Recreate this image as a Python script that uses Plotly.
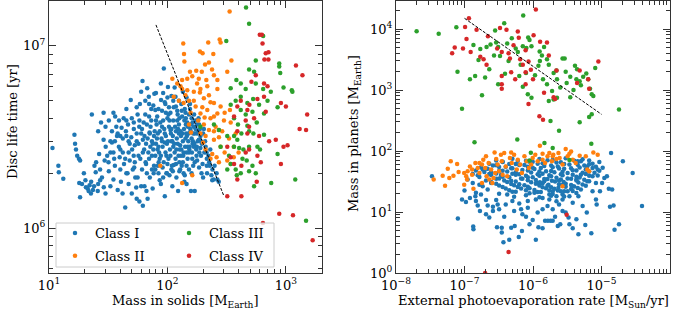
import plotly.graph_objects as go

# ---------------- Left panel: mass in solids [M_Earth] vs disc life time [Myr]
left_I = [(10.7,2.75),(12.0,2.2),(12.1,2.03),(13.2,1.87),(16.4,3.25),(16.6,2.9),(16.9,2.7),(17.3,2.5),(17.9,2.4),(18.3,2.35),(18,1.77),(18.3,1.48),(19.7,2.0),(20.3,1.83),(21.2,1.65),(21.6,1.6),(22.7,1.8),(23,4.2),(24.2,2.2),(24.8,2.03),(22.6,1.55),(23.5,1.62),(25.8,1.6),(27,1.83),(28,1.9),(27,2.1),(28.9,4.3),(28.9,3.05),(30,3.6),(30.1,2.8),(31,2.5),(31.8,2.3),(32,2.05),(34,2.95),(35,4.3),(36.2,4.1),(37,3.6),(37.5,3.2),(38.9,2.8),(39.5,2.45),(40,2.1),(40.5,1.8),(41.8,1.55),(44,1.3),(42.7,4.0),(44.6,3.4),(46.5,3.7),(49,5.05),(49.5,3.15),(50.3,2.7),(51.9,2.5),(52.4,2.15),(53.5,1.9),(54.5,1.67),(56,4.2),(57.8,3.6),(58.5,4.8),(61.6,6.4),(62,3.05),(63.6,2.7),(65.4,2.3),(66.5,1.6),(68,1.45),(67.5,5.85),(69.6,5.25),(70.6,3.35),(71.7,2.8),(74,2.5),(76.5,2.0),(77.5,5.45),(79,4.45),(80,3.9),(81.6,3.1),(82.5,2.7),(84.3,2.3),(86,1.83),(88.3,5.05),(90,3.6),(93.2,7.5),(95,2.95),(96.3,2.6),(99,2.0),(101,5.95),(102,4.2),(106,3.45),(108,3.0),(112,2.8),(113,2.22),(117,5.25),(118,4.65),(121,3.9),(125,3.3),(128,2.85),(130,2.5),(132,2.2),(137,2.0),(139,1.8),(140,4.5),(143,3.7),(146,3.2),(148,2.8),(152,2.6),(157,3.4),(160,4.0),(164,3.0),(167,2.8),(170,1.6),(172,3.9),(178,3.3),(184,3.05),(190,2.75),(194,2.0),(198,2.25),(203,3.5),(210,2.8),(216,2.0),(228,2.2),(239,1.83),(246,1.85),(264,1.85),(271,1.8),
    (19,1.75),(20.5,1.68),(22,1.72),(24,1.7),(26,1.75),(29,1.68),(33,1.7),(35,1.85),(38,1.62),(30,1.55),(25,2.3),(26.5,2.55),(29.5,2.35),(33,2.6),(35.5,2.4),(36,3.0),(40,3.2),(42,2.6),(43,2.25),(45,2.0),(47,1.75),(48,2.35),(50,1.55),(55,1.45),(58,1.4),(62,1.33),(64,1.7),(45,3.9),(47,3.0),(53,2.85),(52,3.8),(55,3.3),(57,2.9),(59,2.4),(26,3.4),(27.5,3.8),(32,3.9),(34,3.4),(39,3.9),(41,3.55),
    (60,3.3),(63,3.8),(66,2.9),(68,3.1),(72,3.6),(74,3.0),(76,2.7),(78,3.4),(80,2.9),(83,3.3),(85,2.6),(87,3.8),(89,3.1),(91,2.8),(94,3.5),(97,3.2),(99,2.9),(100,4.0),(103,3.6),(105,2.7),(107,3.3),(110,3.0),(112,3.9),(115,2.6),(118,3.4),(120,3.1),(122,2.9),(125,3.7),(127,2.7),(130,3.2),(133,4.1),(135,3.0),(138,3.5),(141,2.8),(144,3.3),(147,3.8),(150,3.0),(153,2.7),(156,3.5),(160,3.1),(163,2.9),(167,3.6),(170,3.3),(175,2.7),(180,3.0),(185,3.7),(190,3.2),(195,2.9),
    (62,2.6),(65,4.2),(70,2.4),(73,4.5),(77,2.2),(82,4.1),(86,2.4),(90,4.4),(93,2.3),(96,4.8),(102,2.4),(106,4.3),(109,2.2),(113,4.6),(117,2.4),(121,4.4),(126,2.3),(131,4.8),(136,2.5),(142,4.3),(148,2.4),(155,4.5),(162,2.4),(168,4.2),(176,2.5),(183,4.0),
    (55,3.0),(57,2.5),(52,3.5),(48,2.9),(45,3.2),(47,2.6),(53,2.3),(58,3.9),(42,3.1),(44,2.4),(40,2.7),(38,3.3),(50,4.0),(35,2.6),(33,3.0),(36,2.2),(46,2.0),(51,2.1),(56,1.9),(61,2.1),(67,2.0),(71,1.9),(79,2.1),(84,2.0),(92,1.9),(98,2.0),(104,1.95),(111,2.05),(119,1.9),(128,2.1),(140,1.95),(152,2.1),(165,2.2),(178,2.35),(192,2.5),(205,2.6),(215,2.4),(225,2.3),(240,2.1),
    (60,1.7),(75,1.65),(88,1.75),(95,1.5),(110,1.7),(123,1.6),(145,1.75),(158,1.6),(65,5.0),(80,5.5),(88,6.2),(95,4.9),(108,5.3),(115,5.9),(125,5.0),(135,5.6),(145,5.2),(155,4.8),(60,5.6),(70,4.8),(55,4.6),(45,4.5),
    (61,3.5),(64,3.2),(67,3.7),(69,2.6),(71,3.3),(73,3.9),(75,2.9),(77,3.2),(79,2.5),(81,3.7),(84,2.8),(86,3.4),(88,2.5),(90,3.0),(92,3.9),(95,3.3),(98,2.5),(101,3.0),(104,3.9),(106,2.5),(108,3.5),(111,3.2),(114,2.9),(116,3.6),(119,2.7),(123,3.5),(124,2.5),(126,4.0),(129,3.4),(131,2.7),(134,3.3),(137,2.6),(139,3.9),(142,3.1),(145,2.6),(149,3.6),(151,3.3),(154,2.8),(158,3.7),(161,2.6),(165,3.3),(169,2.9),(173,3.5),(177,2.8),(181,3.4),(186,2.6),(192,3.0),(200,3.3),(208,3.0),(214,2.6),(222,2.5),(230,2.7),
    (97,4.3),(103,4.6),(112,5.0),(122,4.2),(132,4.4),(143,4.0),(152,4.2),(163,3.8),(178,3.7),(188,3.5),(70,4.1),(76,4.7),(84,4.5),(92,5.5),(100,5.2),
    (66,2.25),(74,2.1),(83,2.2),(91,2.15),(100,2.25),(108,2.1),(118,2.25),(126,2.05),(135,2.3),(145,2.2),(160,2.0),(170,2.3),(185,2.15),(200,1.9),(215,2.2),(250,2.2),(260,2.0),(235,1.95)]

left_II = [(335,15.4),(136,10.3),(221,10.4),(276,10.8),(281,10.4),(188,9.3),(198,9.1),(138,9.0),(244,9.0),(139,8.2),(347,8.3),(208,7.9),(224,8.1),(195,7.2),(175,7.3),(155,7.2),(238,7.4),(247,6.9),(320,7.2),(110,6.6),(121,6.2),(133,6.5),(162,6.8),(213,6.5),(264,5.8),(133,5.8),(113,5.25),(142,5.35),(152,5.0),(167,5.6),(188,5.55),(203,5.15),(224,5.35),(247,4.85),(281,4.65),(304,4.3),(173,4.65),(190,4.25),(182,3.9),(203,3.7),(231,4.0),(255,3.6),(272,3.45),(300,3.9),(337,4.45),(342,3.8),(210,3.2),(247,3.05),(281,2.8),(239,2.55),(260,2.45),(304,2.6),(342,2.25),(162,1.95),(133,1.77),(87,2.2),(158,3.35),(377,3.3),(399,2.6),(331,3.1),(363,2.8),(217,4.45),(178,6.2),(147,5.7),(125,5.0),(137,4.85),(157,4.3),(167,5.0),(197,4.6),(231,4.9),(264,4.25),(290,3.4),(224,3.45),(190,3.3),(272,3.15),(247,3.4),(206,4.05),(217,6.0),(264,6.5),(184,6.6),(190,5.8),(129,6.0),(147,6.6),(210,2.7),(231,2.4),(320,2.35),(363,2.45),(272,2.3),(247,4.1),(152,3.7),(200,2.95)]

left_III = [(461,16.2),(489,13.2),(643,11.3),(314,10.6),(557,8.3),(489,7.4),(539,7.2),(879,8.0),(879,7.7),(896,7.1),(955,5.9),(1122,5.7),(1135,5.6),(382,6.5),(416,6.2),(342,5.85),(458,5.8),(557,6.2),(643,5.8),(746,5.6),(529,5.1),(473,4.85),(594,4.75),(700,5.0),(416,4.45),(458,4.2),(522,4.35),(654,4.25),(851,4.6),(247,3.7),(365,4.0),(394,3.7),(473,3.65),(568,3.8),(190,3.6),(272,3.45),(320,3.2),(365,3.2),(389,3.05),(421,3.3),(532,3.3),(654,3.25),(365,2.8),(403,2.75),(438,2.7),(489,2.8),(605,2.7),(851,2.55),(331,2.5),(342,2.25),(377,2.1),(430,2.4),(467,2.35),(522,2.2),(557,2.0),(416,2.0),(320,2.1),(489,2.05),(539,1.7),(752,1.77),(1200,1.85),(1480,1.1),(385,1.95),(575,2.8),(281,2.8),(489,3.4),(377,5.0),(342,4.75),(416,5.25)]

left_IV = [(602,11.5),(627,11.5),(635,10.3),(676,9.1),(713,9.2),(659,8.4),(712,8.4),(1216,7.8),(1380,6.9),(557,6.9),(654,6.2),(700,6.0),(512,6.35),(416,5.0),(492,4.75),(575,5.1),(654,5.25),(908,4.85),(1000,4.65),(1513,4.2),(389,4.65),(473,4.45),(676,4.35),(365,4.1),(458,3.9),(539,4.0),(1306,3.5),(1480,3.45),(489,3.6),(389,3.4),(473,3.3),(594,3.2),(822,3.05),(955,2.8),(1033,2.85),(320,2.8),(489,2.7),(575,2.5),(722,3.0),(342,2.45),(365,2.25),(458,2.6),(908,2.25),(389,1.85),(568,1.8),(614,2.3),(421,2.2),(320,1.5),(421,1.5),(879,1.2),(1148,1.18),(1683,0.86),(640,1.07)]

# ---------------- Right panel: external photoevaporation rate [M_Sun/yr] vs mass in planets [M_Earth]
right_I = [(3.35e-8,38.6),(8.0e-8,7.8),(1.34e-7,5.8),(1.35e-7,5.2),(9.2e-8,16.1),(1.05e-7,14.6),(1.0e-7,22.5),(1.2e-7,17),(1.44e-7,18.2),(1.56e-7,12.8),(1.68e-7,10.4),(2.06e-7,9.2),(2.18e-7,12.8),(2.3e-7,8.1),(2.6e-7,10.4),(2.9e-7,15.7),(3.05e-7,13.3),(2.98e-7,5.6),(3.5e-7,4.6),(3.7e-7,3.2),(3.5e-7,5.5),(3.8e-7,8.4),(4.5e-7,3.5),(4.8e-7,5.5),(5.4e-7,5.9),(6.2e-7,3.9),(6.9e-7,4.9),(7.0e-7,9.2),(7.9e-7,8.4),(8.9e-7,6.3),(9.9e-7,7.4),(1.1e-6,3.5),(1.2e-6,5.6),(1.38e-6,5.4),(1.5e-6,7.2),(1.65e-6,7.2),(1.8e-6,7.2),(1.94e-6,7.2),(2.1e-6,8.4),(2.3e-6,5.9),(2.5e-6,6.3),(2.7e-6,10.4),(3.0e-6,9.8),(3.3e-6,8.1),(3.4e-6,6.3),(3.8e-6,5.4),(4.3e-6,7.6),(4.6e-6,4.3),(5.8e-6,6.1),(6.1e-6,9.8),(7.1e-6,4.5),(8.3e-6,16.1),(8.5e-6,13.3),(9.5e-6,22),(1.02e-5,30),(1.1e-5,36),(1.2e-5,38.6),(1.28e-5,24),(1.33e-5,12.2),(1.43e-5,23.4),(1.5e-5,12.8),(1.55e-5,5.1),(1.8e-5,6.3),(2.05e-5,68),(2.85e-5,43.8),(3.9e-5,12.5),(1.38e-5,92.7),(1.04e-5,53),(8.8e-6,49.6),(6.6e-6,32),(7.4e-6,22),(5.0e-6,23.4),(4.6e-6,18.2),(3.4e-6,18.2),(2.7e-6,19.4),(2.2e-6,18.2),(1.73e-6,16.1),(1.38e-6,17),(1.1e-6,16.1),(8.4e-7,15.1),(6.3e-7,13.8),(5.0e-7,15.1),(4.0e-7,13.3),(3.2e-7,11.1),(2.6e-7,12.2),(2.06e-7,15.7),(1.74e-7,19.4),(1.47e-7,20.7),(1.32e-7,30),(1.11e-7,34),(1.84e-7,26.5),(2.18e-7,23.4),(2.45e-7,30),
    (2.9e-7,70),(5.0e-7,75),(7.9e-7,69),(1.24e-6,74),(1.94e-6,71),(3.0e-6,76),(4.5e-6,68),(5.3e-6,73),(6.6e-6,70),
    (2.3e-7,62),(3.6e-7,66),(5.6e-7,61),(8.9e-7,67),(1.38e-6,63),(2.2e-6,65),(3.4e-6,60),(5.0e-6,68),(7.4e-6,62),(9.3e-6,66),
    (1.74e-7,54),(2.6e-7,58),(4.0e-7,55),(6.3e-7,59),(9.9e-7,53),(1.46e-6,57),(2.3e-6,56),(3.6e-6,52),(5.6e-6,58),(8.3e-6,55),
    (1.47e-7,48),(2.18e-7,51),(3.2e-7,47),(4.8e-7,52),(7.0e-7,49),(1.05e-6,50.5),(1.55e-6,46.5),(2.4e-6,51.5),(3.8e-6,48.5),(5.9e-6,50),(9.3e-6,47.5),
    (1.32e-7,42),(1.95e-7,45.5),(2.9e-7,43),(4.2e-7,46),(6.3e-7,41.5),(9.4e-7,44.5),(1.38e-6,42.5),(2.05e-6,45),(3.2e-6,43.5),(5.0e-6,41),(7.9e-6,44),
    (1.65e-7,37.5),(2.45e-7,40.5),(3.6e-7,38),(5.6e-7,41),(8.4e-7,37),(1.24e-6,39.5),(1.84e-6,38.5),(2.7e-6,40),(4.3e-6,37.8),(6.6e-6,39.2),
    (2.06e-7,33),(3.2e-7,35.5),(4.8e-7,32.5),(7.0e-7,35),(1.1e-6,33.5),(1.63e-6,34.8),(2.4e-6,32.8),(3.6e-6,35.2),(5.6e-6,33.8),
    (2.9e-7,29),(4.2e-7,31),(6.3e-7,28.5),(9.4e-7,30.8),(1.38e-6,29.5),(2.1e-6,31.5),(3.0e-6,29.2),(4.6e-6,30.5),
    (3.6e-7,25.8),(5.3e-7,27.5),(8.4e-7,26),(1.24e-6,27.2),(1.84e-6,25.5),(2.7e-6,27.8),(4.0e-6,26.2),(5.9e-6,27),
    (4.5e-7,22.8),(6.7e-7,24.2),(1.05e-6,23),(1.55e-6,24.5),(2.3e-6,22.5),(3.6e-6,23.8),
    (3.2e-7,20),(5.6e-7,21.5),(8.9e-7,20.3),(1.3e-6,21.2),(1.94e-6,19.8),(2.85e-6,21.8),(4.3e-6,20.5),
    (1.46e-6,32),(1.68e-6,28),(1.94e-6,22),(2.35e-6,25),(2.55e-6,34),(2.85e-6,28),(3.2e-6,22),(1.73e-6,19.4),(2.2e-6,15),(2.7e-6,16),(1.17e-6,30),(1.05e-6,20.7),(3.8e-6,26.5),(4.3e-6,34),(5.3e-6,44),(6.2e-6,56),
    (1.84e-7,50),(1.65e-7,28),(1.47e-7,15.1),(4.2e-7,19.4),(5.3e-7,10.4),(6.7e-7,11.1),(8.4e-7,11.8),(1.17e-6,9.8),(1.38e-6,11.1),(1.63e-6,12.5),(1.94e-6,11.1),(2.4e-6,13.3),(3.8e-6,14.2),(5.3e-6,12.5),(8.3e-6,30),(7.4e-6,38.6),
    (3.6e-7,66.5),(6.0e-7,69.5),(9.9e-7,67),(1.63e-6,70.5),(2.55e-6,65.5),(4.0e-6,69),
    (2.9e-7,58.5),(4.5e-7,61.5),(7.5e-7,59),(1.17e-6,62),(1.84e-6,58),(2.85e-6,61),(4.5e-6,59.5),(6.6e-6,60.5),
    (2.06e-7,51.5),(3.2e-7,54.5),(5.0e-7,52),(8.4e-7,55),(1.3e-6,52.5),(1.94e-6,54),(2.85e-6,51),(4.8e-6,53.5),(7.4e-6,52.8),
    (2.45e-7,45.5),(3.6e-7,47.5),(5.6e-7,45),(8.4e-7,48),(1.24e-6,46),(1.84e-6,47),(2.7e-6,45.8),(4.3e-6,47.8),(6.6e-6,46.3),
    (1.56e-7,40),(2.3e-7,42),(3.4e-7,40.5),(5.0e-7,42.5),(7.9e-7,39.5),(1.17e-6,41.5),(1.73e-6,40.2),(2.55e-6,41.8),(3.8e-6,40.8),(5.9e-6,42.2),(8.8e-6,39.8),
    (2.9e-7,35),(4.5e-7,37),(6.7e-7,35.5),(9.9e-7,37.2),(1.46e-6,34.8),(2.2e-6,36.5),(3.2e-6,35.3),(4.8e-6,36.8),
    (2.45e-7,31),(3.8e-7,33),(5.6e-7,31.5),(8.4e-7,33.2),(1.26e-6,30.8),(1.89e-6,32.5),(2.8e-6,31.2),(4.3e-6,32.8),(6.2e-6,31.8),
    (3.2e-7,27.2),(4.8e-7,28.8),(7.5e-7,27.5),(1.1e-6,29),(1.63e-6,27),(2.4e-6,28.5),(3.6e-6,27.8),(5.3e-6,28.2),
    (4.0e-7,24.2),(6.0e-7,25.8),(8.9e-7,24.5),(1.38e-6,25.5),(2.05e-6,24),(3.0e-6,26),(4.5e-6,24.8),
    (5.0e-7,21.5),(7.9e-7,22.8),(1.17e-6,21.2),(1.73e-6,22.5),(2.55e-6,21.8),(3.8e-6,22.2),
    (5.3e-7,17.8),(7.9e-7,18.8),(1.24e-6,17.5),(1.84e-6,18.5),(2.85e-6,18)]

right_II = [(3.55e-8,34.1),(4.8e-8,39.5),(5.2e-8,27),(5.7e-8,51),(6.3e-8,68),(6.0e-8,36),(6.9e-8,39.5),(7.8e-8,61),(8.2e-8,45.5),(9.9e-8,43.8),(9.9e-8,28),(1.06e-7,38.6),(1.11e-7,46.5),(1.2e-7,56),(1.29e-7,49.6),(1.35e-7,24),(1.44e-7,63.7),(1.56e-7,52.5),(1.65e-7,43.8),(1.8e-7,60),(1.88e-7,72),(2.0e-7,52.5),(2.1e-7,38.6),(2.25e-7,63.7),(2.45e-7,49.6),(2.65e-7,36),(2.75e-7,95),(2.9e-7,74),(3.05e-7,60),(3.2e-7,46.5),(3.5e-7,68),(3.8e-7,93),(4.0e-7,56),(4.2e-7,38.6),(4.6e-7,77),(4.9e-7,63.7),(5.3e-7,87),(5.8e-7,49.6),(6.0e-7,72),(6.5e-7,60),(6.9e-7,43.8),(7.5e-7,82),(8.1e-7,68),(8.7e-7,52.5),(9.4e-7,60),(9.9e-7,77),(1.08e-6,87),(1.17e-6,68),(1.26e-6,122),(1.38e-6,72),(1.5e-6,63.7),(1.63e-6,82),(1.73e-6,93),(1.89e-6,68),(1.98e-6,87),(2.2e-6,74),(2.35e-6,93),(2.45e-6,77),(2.7e-6,60),(3.0e-6,108),(3.2e-6,82),(3.4e-6,90),(3.6e-6,98),(3.8e-6,72),(4.2e-6,63.7),(4.8e-6,84),(5.9e-6,82),(6.2e-6,49.6),(6.6e-6,46.5),(7.6e-6,95),(8.8e-6,87),(2.7e-6,26.5),(2.3e-7,34),(2.55e-7,30),(1.65e-7,63.7),(2.06e-7,82),(3.4e-7,87),(4.8e-7,95),(1.38e-6,90),(1.94e-6,82),(3.6e-7,41),(1.29e-7,41),(1.09e-7,34),(1.8e-7,30),(2.8e-7,43.8)]

right_III = [(2.0e-8,9.2e3),(4.2e-8,8.4e3),(7.6e-8,1.07e4),(7.9e-8,2.0e3),(9.2e-8,495),(1.35e-7,5.5e3),(1.2e-7,1.5e3),(1.43e-7,1.7e3),(1.8e-7,820),(2.0e-7,1.6e3),(1.6e-7,3.1e3),(1.7e-7,4.7e3),(2.1e-7,5.1e3),(2.4e-7,5.6e3),(2.9e-7,6.0e3),(3.1e-7,5.1e3),(2.7e-7,3.7e3),(3.3e-7,3.6e3),(2.8e-7,9.5e3),(3.8e-7,1.24e4),(2.3e-7,2.2e3),(3.1e-7,1.24e3),(3.9e-7,1.85e3),(4.2e-7,5.8e3),(4.4e-7,3.0e3),(4.9e-7,7.1e3),(6.0e-7,4.2e3),(5.6e-7,4.8e3),(7.1e-7,5.2e3),(8e-7,4.9e3),(8.5e-7,7.3e3),(8.9e-7,6.6e3),(9.5e-7,5.2e3),(7.2e-7,1.67e4),(6.6e-7,2.6e3),(6.3e-7,1.7e3),(7.9e-7,1.9e3),(7.1e-7,1.13e3),(8.4e-7,850),(9.5e-7,750),(1.07e-6,1.75e3),(1.2e-6,2.5e3),(1.26e-6,3.0e3),(1.25e-6,4.3e3),(1.35e-6,3.7e3),(1.45e-6,5.1e3),(1.6e-6,3.2e3),(1.7e-6,2.6e3),(1.4e-6,1.5e3),(1.6e-6,1.25e3),(1.9e-6,960),(2.24e-6,1.5e3),(2e-6,1.9e3),(2.2e-6,2.1e3),(2.7e-6,3.3e3),(2.9e-6,3.3e3),(3.0e-6,2.0e3),(3.5e-6,1.65e3),(3.1e-6,1.3e3),(2.5e-6,1.1e3),(2e-6,700),(2.24e-6,750),(1.7e-6,660),(1.8e-6,310),(2.4e-6,215),(4.1e-6,2.5e3),(4.4e-6,2.2e3),(4.3e-6,1.5e3),(4.8e-6,1.4e3),(5e-6,1.2e3),(5.4e-6,1.65e3),(6e-6,1.87e3),(6.4e-6,1.5e3),(6.8e-6,1.05e3),(7.2e-6,850),(7.6e-6,800),(8.1e-6,2.3e3),(4.8e-6,295),(6.6e-6,360),(7.2e-6,400),(1.8e-5,480),(3.9e-6,1.0e3),(3.5e-6,760),
    (1.4e-7,139),(5.9e-7,155),(1.47e-6,135),(1.94e-6,112),(7.1e-6,132),(9.3e-7,94),(8.9e-7,70),(3.4e-6,71)]

right_IV = [(1.1e-6,2.1e4),(1.16e-7,1.5e4),(1.02e-7,1.08e4),(1.07e-7,6.9e3),(1.5e-7,9.7e3),(7.2e-8,5.0e3),(6.6e-8,4.0e3),(9.5e-8,4.8e3),(1.23e-7,4.2e3),(1.9e-7,3.2e3),(2.2e-7,7.6e3),(1.7e-7,3.5e3),(3.0e-7,4.8e3),(3.3e-7,1.04e4),(4.1e-7,9.7e3),(3.5e-7,4.2e3),(4.4e-7,4.0e3),(5.2e-7,5.4e3),(6e-7,9.1e3),(6.2e-7,7.2e3),(7.8e-7,4.5e3),(6.5e-7,3.2e3),(7.1e-7,2.6e3),(7.8e-7,1.95e3),(8.6e-7,2.95e3),(9.3e-7,2.15e3),(1.02e-6,7.9e3),(1.27e-6,6.2e3),(1e-6,1.5e3),(7.8e-7,1.24e3),(3.5e-7,1.24e3),(3.5e-7,1.05e3),(3.5e-7,1.7e3),(4.8e-7,1.95e3),(5.5e-7,1.5e3),(8.6e-7,590),(1.24e-6,370),(1.4e-6,325),(1.45e-6,900),(1.6e-6,6.0e3),(1.7e-6,3.7e3),(2e-6,760),(2.1e-6,710),(2.2e-6,2.1e3),(4.4e-6,1.3e3),(4.8e-6,2.1e3),(6.4e-6,1.5e3),(6.6e-6,1.05e3),(9e-6,2.95e3),(2.1e-7,2.6e3),(4.6e-7,3.3e3),
    (3.1e-6,9.0),(4.4e-7,2.2),(2e-7,1.0)]

# dashed guide lines (endpoints)
fit_left_mass = [80, 300]
fit_left_life = [1.3e7, 1.5e6]
fit_right_rate = [1e-7, 1e-5]
fit_right_mass = [1.5e4, 400]

class_names = ["Class I", "Class II", "Class III", "Class IV"]
class_colors = ["#1f77b4", "#ff7f0e", "#2ca02c", "#d62728"]
legend_ids = ["legend", "legend", "legend2", "legend2"]

left_sets = [left_I, left_II, left_III, left_IV]
right_sets = [right_I, right_II, right_III, right_IV]

FONT = "DejaVu Serif"
FS = 13
AX = "#333333"
fig = go.Figure()

for name, col, lg, lset, rset in zip(class_names, class_colors, legend_ids, left_sets, right_sets):
    fig.add_trace(go.Scatter(
        x=[p[0] for p in lset], y=[p[1] * 1e6 for p in lset],
        mode="markers", marker=dict(size=4.5, color=col, line=dict(width=0)),
        name=name, legend=lg, legendgroup=name, xaxis="x", yaxis="y", showlegend=True))
    fig.add_trace(go.Scatter(
        x=[p[0] for p in rset], y=[p[1] for p in rset],
        mode="markers", marker=dict(size=4.5, color=col, line=dict(width=0)),
        name=name, legendgroup=name, xaxis="x2", yaxis="y2", showlegend=False))

fig.add_trace(go.Scatter(x=fit_left_mass, y=fit_left_life, mode="lines",
                         line=dict(color="black", width=1, dash="3px,1.5px"),
                         showlegend=False, xaxis="x", yaxis="y"))
fig.add_trace(go.Scatter(x=fit_right_rate, y=fit_right_mass, mode="lines",
                         line=dict(color="black", width=1, dash="3px,1.5px"),
                         showlegend=False, xaxis="x2", yaxis="y2"))

def decade_minor(lo, hi):
    vals = []
    for e in range(lo, hi + 1):
        for m in range(2, 10):
            vals.append(m * 10.0 ** e)
    return vals

def sup(e):
    s = str(e).replace("-", "\u2212")
    return "10<sup>" + s + "</sup>"

axis_common = dict(type="log", showgrid=False, zeroline=False, showline=True,
                   linecolor=AX, linewidth=1.3, mirror="allticks", automargin=False,
                   ticks="inside", ticklen=7, tickwidth=1.1, tickcolor=AX,
                   tickfont=dict(family=FONT, size=FS, color="black"))
minor_common = dict(ticks="inside", ticklen=4, tickcolor=AX, tickwidth=1)

left_x_ticks = [10, 100, 1000]
left_y_ticks = [1e6, 1e7]
right_x_ticks = [1e-8, 1e-7, 1e-6, 1e-5, 1e-4]
right_y_ticks = [1, 10, 100, 1000, 10000]

def px_x(p):
    return p / 685

def px_y(p):
    return (273 - p) / 272

titles = [
    dict(text="Mass in solids [M<sub>Earth</sub>]", x=px_x(185), y=px_y(301), textangle=0),
    dict(text="External photoevaporation rate [M<sub>Sun</sub>/yr]", x=px_x(533), y=px_y(301), textangle=0),
    dict(text="Disc life time [yr]", x=px_x(12), y=px_y(122), textangle=-90),
    dict(text="Mass in planets [M<sub>Earth</sub>]", x=px_x(354), y=px_y(134), textangle=-90),
]
annotations = [dict(t, xref="paper", yref="paper", showarrow=False, xanchor="center",
                    yanchor="middle", font=dict(family=FONT, size=FS, color="black"))
               for t in titles]

fig.update_layout(
    width=685, height=311, plot_bgcolor="white", paper_bgcolor="white",
    margin=dict(l=0, r=0, t=1, b=38, autoexpand=False),
    font=dict(family=FONT, size=FS, color="black"),
    xaxis=dict(axis_common, domain=[49/685, 322/685], range=[1, 3.305],
               tickvals=left_x_ticks, ticktext=[sup(1), sup(2), sup(3)],
               minor=dict(minor_common, tickvals=decade_minor(1, 3)), anchor="y"),
    yaxis=dict(axis_common, domain=[0, 1], range=[5.755, 7.245],
               tickvals=left_y_ticks, ticktext=[sup(6), sup(7)],
               minor=dict(minor_common, tickvals=decade_minor(5, 7)), anchor="x"),
    xaxis2=dict(axis_common, domain=[396/685, 670/685], range=[-8, -4],
                tickvals=right_x_ticks, ticktext=[sup(-8), sup(-7), sup(-6), sup(-5), sup(-4)],
                minor=dict(minor_common, tickvals=decade_minor(-8, -5)), anchor="y2"),
    yaxis2=dict(axis_common, domain=[0, 1], range=[0, 4.46],
                tickvals=right_y_ticks, ticktext=[sup(0), sup(1), sup(2), sup(3), sup(4)],
                minor=dict(minor_common, tickvals=decade_minor(0, 4)), anchor="x2"),
    legend=dict(x=px_x(55), y=px_y(218), xanchor="left", yanchor="top",
                bgcolor="rgba(0,0,0,0)", borderwidth=0, tracegroupgap=3,
                font=dict(family=FONT, size=FS)),
    legend2=dict(x=px_x(169), y=px_y(218), xanchor="left", yanchor="top",
                 bgcolor="rgba(0,0,0,0)", borderwidth=0, tracegroupgap=3,
                 font=dict(family=FONT, size=FS)),
    shapes=[dict(type="rect", xref="paper", yref="paper",
                 x0=px_x(56), x1=px_x(274), y0=px_y(267), y1=px_y(223),
                 fillcolor="rgba(255,255,255,0.8)", line=dict(color="#cccccc", width=1),
                 layer="above")],
    annotations=annotations,
)

fig.write_html("out.html", config={"displayModeBar": False},
               post_script="document.body.style.margin='0px';")
